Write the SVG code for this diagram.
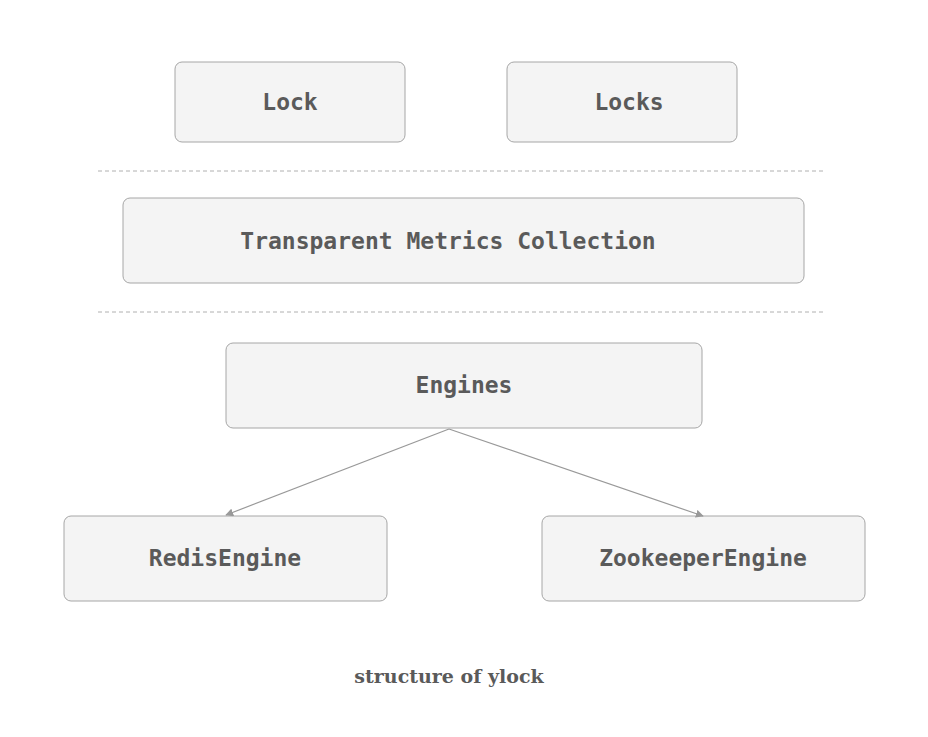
<svg xmlns="http://www.w3.org/2000/svg" width="928" height="737" viewBox="0 0 928 737">
<style>
.n rect{fill:#f4f4f4;stroke:#a6a6a6;stroke-width:1}
.n text{font-family:"DejaVu Sans Mono","Liberation Mono",monospace;font-weight:bold;font-size:23px;fill:#5a5a5a;text-anchor:middle;dominant-baseline:central}
.d{stroke:#b0b0b0;stroke-dasharray:4 3;stroke-width:1}
.c line{stroke:#999;stroke-width:1.2;marker-end:url(#a)}
</style>
<defs><marker id="a" viewBox="0 0 10 10" refX="9" refY="5" markerWidth="8" markerHeight="8" orient="auto" markerUnits="userSpaceOnUse"><path d="M0,0L10,5L0,10z" fill="#999"/></marker></defs>
<rect width="928" height="737" fill="#fff"/>
<g id="lock" class="n"><rect x="175" y="62" width="230" height="80" rx="7"/><text x="290" y="102">Lock</text></g>
<g id="locks" class="n"><rect x="507" y="62" width="230" height="80" rx="7"/><text x="629" y="102">Locks</text></g>
<line class="d" x1="98" y1="171" x2="824" y2="171"/>
<g id="metrics" class="n"><rect x="123" y="198" width="681" height="85" rx="7"/><text x="448" y="241">Transparent Metrics Collection</text></g>
<line class="d" x1="98" y1="312" x2="824" y2="312"/>
<g id="engines" class="n"><rect x="226" y="343" width="476" height="85" rx="7"/><text x="464" y="385">Engines</text></g>
<g id="redis" class="n"><rect x="64" y="516" width="323" height="85" rx="7"/><text x="225" y="558">RedisEngine</text></g>
<g id="zk" class="n"><rect x="542" y="516" width="323" height="85" rx="7"/><text x="703" y="558">ZookeeperEngine</text></g>
<g id="connectors" class="c"><line x1="449" y1="429" x2="226" y2="515"/><line x1="449" y1="429" x2="703" y2="516"/></g>
<text x="449" y="676" font-family="DejaVu Serif,serif" font-weight="bold" font-size="19" fill="#5a5a5a" text-anchor="middle" dominant-baseline="central">structure of ylock</text>
</svg>
